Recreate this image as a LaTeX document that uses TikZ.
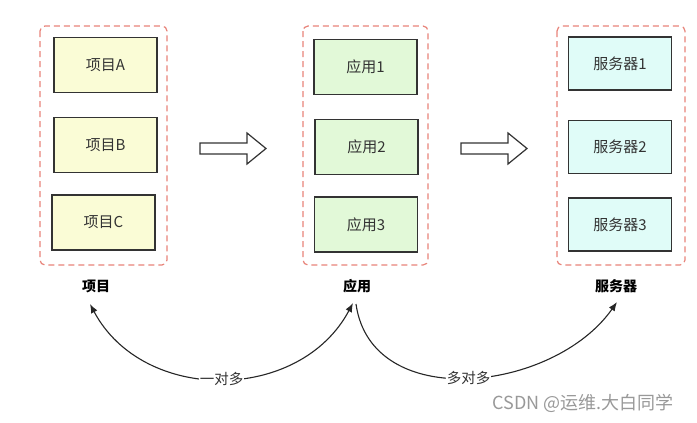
\documentclass[tikz,border=0pt]{standalone}
\usepackage{fontspec}
\setmainfont{Noto Sans CJK SC}
\usetikzlibrary{arrows.meta}
\definecolor{dashred}{HTML}{E8847A}
\definecolor{fillY}{HTML}{FAFCD6}
\definecolor{fillG}{HTML}{E2F9D8}
\definecolor{fillC}{HTML}{E0FCF8}
\definecolor{edgegray}{HTML}{333333}
\tikzset{
  grp/.style={draw=dashred, line width=1.2pt, dash pattern=on 6pt off 4pt, rounded corners=5pt},
  item/.style={draw=edgegray, line width=1.4pt, minimum width=103pt, minimum height=55pt, inner sep=0pt, font=\fontsize{15}{17}\selectfont, text=black!80},
  title/.style={font=\fontsize{14}{16}\selectfont\bfseries, text=black},
  blockarrow/.style={draw=edgegray, line width=1.2pt, fill=white, line join=miter},
  curve/.style={draw=black!85, line width=1.1pt, -{Latex[length=9pt,width=7pt]}},
  elabel/.style={fill=white, inner sep=1pt, font=\fontsize{14.5}{16}\selectfont, text=black!80}
}
\begin{document}
\begin{tikzpicture}[x=1pt,y=-1pt]
\useasboundingbox[fill=white] (0,0) rectangle (697,423);
% groups
\draw[grp] (40,26) rectangle (167,265);
\draw[grp] (303,26) rectangle (428,265);
\draw[grp] (557,26) rectangle (685,265);
% items
\node[item, fill=fillY] (pa) at (105.5,65) {项目A};
\node[item, fill=fillY] (pb) at (105.5,145) {项目B};
\node[item, fill=fillY] (pc) at (103.5,222.5) {项目C};
\node[item, fill=fillG] (a1) at (365.5,67) {应用1};
\node[item, fill=fillG] (a2) at (366.5,147) {应用2};
\node[item, fill=fillG] (a3) at (366,224.5) {应用3};
\node[item, fill=fillC, minimum height=53pt] (s1) at (620,63.5) {服务器1};
\node[item, fill=fillC, minimum height=53pt] (s2) at (620,147) {服务器2};
\node[item, fill=fillC, minimum height=53pt] (s3) at (620,224.5) {服务器3};
% block arrows
\draw[blockarrow] (200,143) -- (247,143) -- (247,133) -- (266,148.5) -- (247,164) -- (247,154) -- (200,154) -- cycle;
\draw[blockarrow] (461,143) -- (508,143) -- (508,133) -- (527,148.5) -- (508,164) -- (508,154) -- (461,154) -- cycle;
% titles
\node[title] (tp) at (96,286) {项目};
\node[title] (ta) at (357,286) {应用};
\node[title] (ts) at (616,286) {服务器};
\coordinate (tpb) at (90,304);
\coordinate (tab) at (353,303);
\coordinate (tas) at (356,304);
\coordinate (tsb) at (617,302);
% curves
\draw[curve, {Latex[length=9pt,width=7pt]}-{Latex[length=9pt,width=7pt]}] (tpb) to[out=-62,in=-118,looseness=1.1] node[elabel, pos=0.5] {一对多} (tab);
\draw[curve] (tas) to[out=-82,in=-125,looseness=1.08] node[elabel, pos=0.5] {多对多} (tsb);
% watermark
\node[font=\fontsize{18}{20}\selectfont, text=black!40] (wm) at (583,403) {CSDN @运维.大白同学};
\end{tikzpicture}
\end{document}
